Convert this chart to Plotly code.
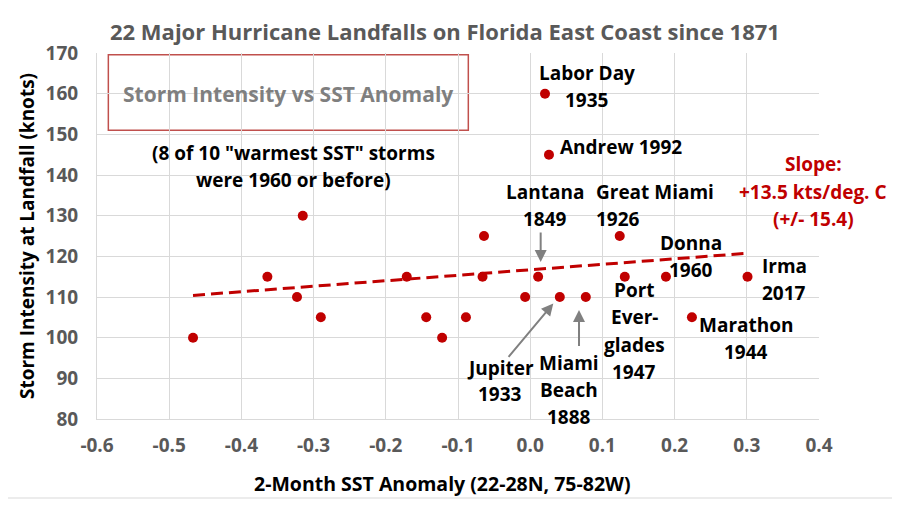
import numpy as np
import plotly.graph_objects as go

# ---- data ----
sst_anomaly = [-0.467, -0.364, -0.323, -0.315, -0.290, -0.171, -0.144, -0.122, -0.089,
               -0.064, -0.066, -0.007, 0.011, 0.0205, 0.026, 0.041, 0.077, 0.124,
               0.131, 0.188, 0.224, 0.301]
intensity_kts = [100, 115, 110, 130, 105, 115, 105, 100, 105,
                 125, 115, 110, 115, 160, 145, 110, 110, 125,
                 115, 115, 105, 115]
x_ticks = [-0.6, -0.5, -0.4, -0.3, -0.2, -0.1, 0.0, 0.1, 0.2, 0.3, 0.4]
x_tick_labels = ["-0.6", "-0.5", "-0.4", "-0.3", "-0.2", "-0.1", "0.0", "0.1", "0.2", "0.3", "0.4"]
y_ticks = [80, 90, 100, 110, 120, 130, 140, 150, 160, 170]

title_text = "22 Major Hurricane Landfalls on Florida East Coast since 1871"
x_title = "2-Month SST Anomaly (22-28N, 75-82W)"
y_title = "Storm Intensity at Landfall (knots)"
box_text = "Storm Intensity vs SST Anomaly"
note_lines = ['(8 of 10 "warmest SST" storms', "were 1960 or before)"]
slope_lines = ["Slope:", "+13.5 kts/deg. C", "(+/- 15.4)"]
storm_labels = {
    "labor": ["Labor Day", "1935"],
    "andrew": ["Andrew 1992"],
    "lantana": ["Lantana", "1849"],
    "greatmiami": ["Great Miami", "1926"],
    "donna": ["Donna", "1960"],
    "irma": ["Irma", "2017"],
    "porteverglades": ["Port", "Ever-", "glades", "1947"],
    "marathon": ["Marathon", "1944"],
    "jupiter": ["Jupiter", "1933"],
    "miamibeach": ["Miami", "Beach", "1888"],
}

# ---- style ----
RED = "#c00000"
FONT = "Open Sans"
LBL = 19

# layout geometry (pixels); the page body adds an 8px offset
OFF = 8
W, H = 900, 506
ML, MT = 97 - OFF, 53 - OFF
PW, PH = 722, 366
MR, MB = W - ML - PW, H - MT - PH

def px(xp):
    return (xp - OFF - ML) / PW

def py(yp):
    return (MT + PH - (yp - OFF)) / PH

# trend line (least squares fit of the data)
slope, intercept = np.polyfit(sst_anomaly, intensity_kts, 1)
trend_x = [min(sst_anomaly), max(sst_anomaly)]
trend_y = [slope * v + intercept for v in trend_x]

fig = go.Figure()
fig.add_trace(go.Scatter(
    x=trend_x, y=trend_y, mode="lines",
    line=dict(color=RED, width=3, dash="12px,6px"),
    hoverinfo="skip", showlegend=False))
fig.add_trace(go.Scatter(
    x=sst_anomaly, y=intensity_kts, mode="markers",
    marker=dict(color=RED, size=10, line=dict(width=0)),
    showlegend=False))

annotations = []

def add_lines(lines, x, y0, dy=6.6, color="black", size=LBL, xanchor="center"):
    for i, t in enumerate(lines):
        annotations.append(dict(
            x=x, y=y0 - i * dy, xref="x", yref="y", text=t, showarrow=False,
            xanchor=xanchor, yanchor="middle",
            font=dict(family=FONT, size=size, color=color, weight="bold")))

add_lines(storm_labels["labor"], 0.078, 165.0)
add_lines(storm_labels["andrew"], 0.0385, 146.8, xanchor="left")
add_lines(storm_labels["lantana"], 0.021, 135.8)
add_lines(storm_labels["greatmiami"], 0.0884, 135.7, xanchor="left")
add_lines(storm_labels["donna"], 0.2227, 123.3)
add_lines(storm_labels["irma"], 0.3183, 117.6, xanchor="left")
add_lines(storm_labels["porteverglades"], 0.1438, 111.7, dy=6.7)
add_lines(storm_labels["marathon"], 0.299, 103.1)
add_lines(storm_labels["jupiter"], -0.0418, 92.45, dy=6.2)
add_lines(storm_labels["miamibeach"], 0.0537, 93.8, dy=6.6)
add_lines(note_lines, -0.3285, 145.3)
add_lines(slope_lines, 0.3917, 142.6, dy=6.75, color=RED)

# box label
annotations.append(dict(
    x=-0.3355, y=160.0, xref="x", yref="y", text=box_text, showarrow=False,
    xanchor="center", yanchor="middle",
    font=dict(family=FONT, size=21, color="#7f7f7f", weight="bold")))

# arrows
def add_arrow(x_tail, y_tail, x_head, y_head):
    annotations.append(dict(
        x=x_head, y=y_head, ax=x_tail, ay=y_tail, xref="x", yref="y",
        axref="x", ayref="y", text="", showarrow=True, arrowhead=2,
        arrowsize=1.2, arrowwidth=2, arrowcolor="#808080"))

add_arrow(0.0145, 126.2, 0.0145, 118.6)
add_arrow(-0.0317, 94.9, 0.032, 108.4)
add_arrow(0.0676, 97.6, 0.0676, 106.8)

# title and axis titles
annotations.append(dict(
    x=px(445), y=py(31), xref="paper", yref="paper", text=title_text,
    showarrow=False, xanchor="center", yanchor="middle",
    font=dict(family=FONT, size=22, color="#595959", weight="bold")))
annotations.append(dict(
    x=px(442), y=py(483), xref="paper", yref="paper", text=x_title,
    showarrow=False, xanchor="center", yanchor="middle",
    font=dict(family=FONT, size=19.5, color="black", weight="bold")))
annotations.append(dict(
    x=px(27), y=py(236), xref="paper", yref="paper", text=y_title,
    showarrow=False, xanchor="center", yanchor="middle", textangle=-90,
    font=dict(family=FONT, size=19, color="black", weight="bold")))

shapes = [
    dict(type="rect", xref="x", yref="y", x0=-0.5843, x1=-0.0857, y0=151.0, y1=169.55,
         line=dict(color="#c0504d", width=1.5), fillcolor="white", layer="below"),
    dict(type="rect", xref="paper", yref="paper",
         x0=px(2), x1=px(897), y0=py(498), y1=py(5),
         line=dict(color="#d9d9d9", width=1), layer="below"),
]

fig.update_layout(
    width=W, height=H,
    margin=dict(l=ML, r=MR, t=MT, b=MB),
    paper_bgcolor="white", plot_bgcolor="white",
    font=dict(family=FONT, color="#595959"),
    annotations=annotations,
    shapes=shapes,
    showlegend=False,
)

fig.update_xaxes(
    range=[-0.6, 0.4], tickvals=x_ticks, ticktext=x_tick_labels,
    showgrid=True, gridcolor="#d9d9d9", gridwidth=1, zeroline=False,
    showline=True, linecolor="#d9d9d9", ticks="", automargin=False,
    tickfont=dict(family=FONT, size=19, color="#595959", weight="bold"),
    ticklabelstandoff=9)
fig.update_yaxes(
    range=[80, 170], tickvals=y_ticks,
    showgrid=True, gridcolor="#d9d9d9", gridwidth=1, zeroline=False,
    showline=True, linecolor="#d9d9d9", ticks="", automargin=False,
    tickfont=dict(family=FONT, size=19, color="#595959", weight="bold"),
    ticklabelstandoff=14)

fig.write_html("out.html")
